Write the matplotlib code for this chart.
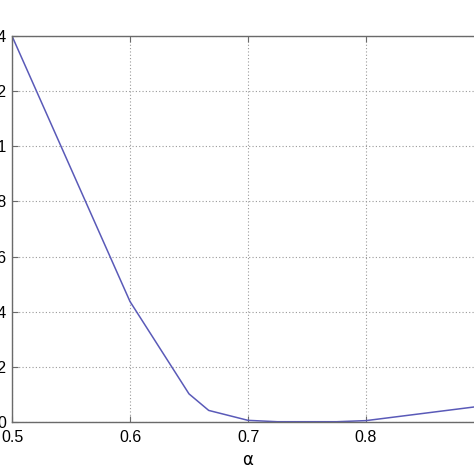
import matplotlib
matplotlib.use("Agg")
import matplotlib.pyplot as plt
from matplotlib.ticker import FixedLocator, FixedFormatter

alpha = [0.5, 0.6, 0.65, 0.6667, 0.7, 0.725, 0.75, 0.775, 0.8, 0.9]
value = [0.14, 0.0437, 0.0102, 0.0042, 0.0006, 0.0001, 0.0001, 0.0001, 0.0005, 0.0059]

xticks = [0.5, 0.6, 0.7, 0.8, 0.9]
xticklabels = ["0.5", "0.6", "0.7", "0.8", "0.9"]
yticks = [0, 0.02, 0.04, 0.06, 0.08, 0.1, 0.12, 0.14]
yticklabels = ["0", "0.02", "0.04", "0.06", "0.08", "0.1", "0.12", "0.14"]

plt.rcParams['font.family'] = ['Liberation Sans', 'DejaVu Sans']

fig = plt.figure(figsize=(4.74, 4.74), dpi=100)
ax = fig.add_axes([12/474, 52/474, 472/474, 386/474])

ax.plot(alpha, value, color='#5a5ab8', lw=1.1)
ax.set_xlim(0.5, 0.9)
ax.set_ylim(0, 0.14)
ax.xaxis.set_major_locator(FixedLocator(xticks))
ax.xaxis.set_major_formatter(FixedFormatter(xticklabels))
ax.yaxis.set_major_locator(FixedLocator(yticks))
ax.yaxis.set_major_formatter(FixedFormatter(yticklabels))

ax.grid(True, linestyle=(0, (1, 2)), color='#999999', lw=0.8)
for s in ax.spines.values():
    s.set_color('#6a6a6a')
    s.set_linewidth(1.0)
ax.tick_params(direction='in', length=4, width=0.8, color='#6a6a6a',
               top=True, right=True, labelsize=11.5)
ax.tick_params(axis='x', pad=6)
ax.tick_params(axis='y', pad=4)
ax.set_xlabel('α', fontsize=12, labelpad=4, family=['DejaVu Sans'])

fig.savefig('out.png', dpi=100)
